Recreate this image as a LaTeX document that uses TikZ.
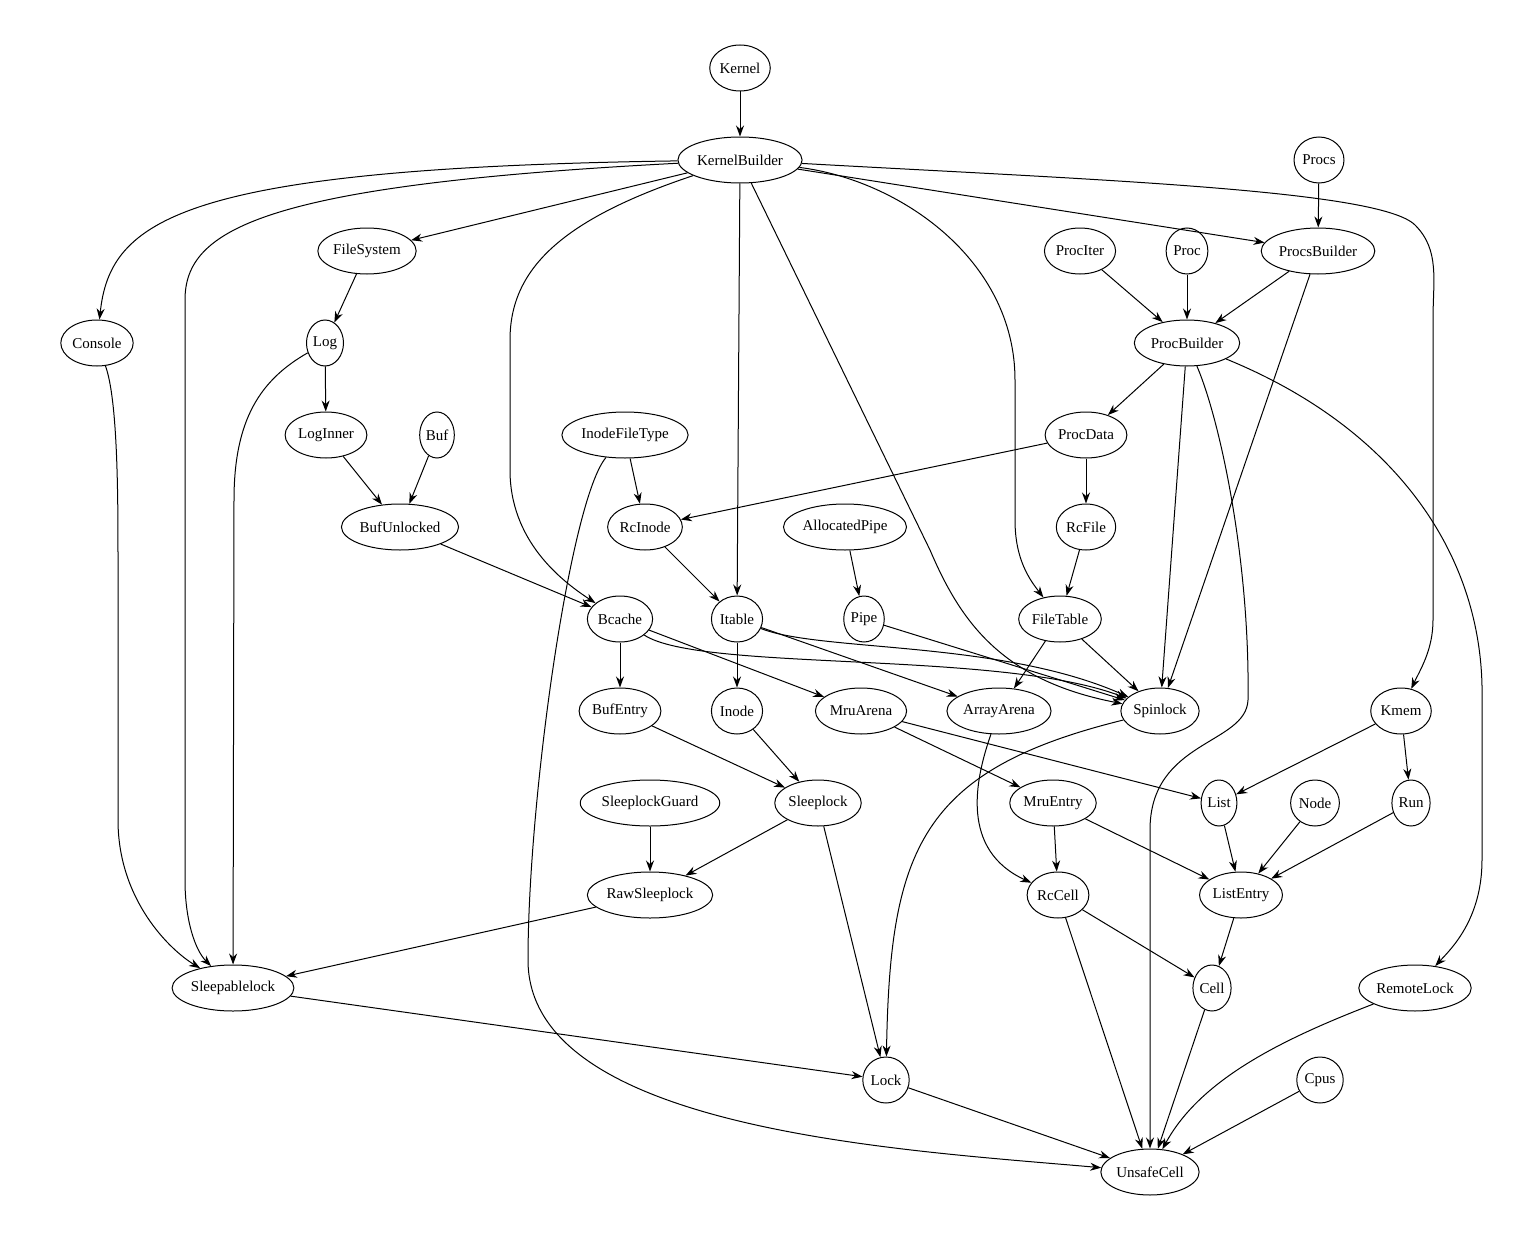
\documentclass[tikz,border=0pt]{standalone}
\usepackage{fontspec}
\setmainfont{Liberation Serif}
\usetikzlibrary{shapes.geometric,arrows.meta}
\begin{document}
\begin{tikzpicture}[x=1pt,y=-1pt,
 nd/.style={ellipse,draw,line width=1pt,minimum height=46pt,inner xsep=1pt,inner ysep=0pt,font=\fontsize{15}{17}\selectfont},
 ar/.style={line width=1pt,-{Stealth[length=11pt,width=8pt]}}]
\useasboundingbox (0,0) rectangle (1535,1239);
\node[nd] (Kernel) at (740,68) {Kernel};
\node[nd] (KernelBuilder) at (740,160) {KernelBuilder};
\node[nd] (Procs) at (1319,160) {Procs};
\node[nd] (FileSystem) at (367,251) {FileSystem};
\node[nd] (ProcIter) at (1080,251) {ProcIter};
\node[nd] (Proc) at (1187,251) {Proc};
\node[nd] (ProcsBuilder) at (1318,251) {ProcsBuilder};
\node[nd] (Console) at (97,343) {Console};
\node[nd] (Log) at (325,343) {Log};
\node[nd] (ProcBuilder) at (1187,343) {ProcBuilder};
\node[nd] (LogInner) at (326,435) {LogInner};
\node[nd] (Buf) at (437,435) {Buf};
\node[nd] (InodeFileType) at (625,435) {InodeFileType};
\node[nd] (ProcData) at (1086,435) {ProcData};
\node[nd] (BufUnlocked) at (400,527) {BufUnlocked};
\node[nd] (RcInode) at (645,527) {RcInode};
\node[nd] (AllocatedPipe) at (845,527) {AllocatedPipe};
\node[nd] (RcFile) at (1086,527) {RcFile};
\node[nd] (Bcache) at (620,619) {Bcache};
\node[nd] (Itable) at (737,619) {Itable};
\node[nd] (Pipe) at (864,619) {Pipe};
\node[nd] (FileTable) at (1060,619) {FileTable};
\node[nd] (BufEntry) at (620,711) {BufEntry};
\node[nd] (Inode) at (737,711) {Inode};
\node[nd] (MruArena) at (861,711) {MruArena};
\node[nd] (ArrayArena) at (999,711) {ArrayArena};
\node[nd] (Spinlock) at (1160,711) {Spinlock};
\node[nd] (Kmem) at (1401,711) {Kmem};
\node[nd] (SleeplockGuard) at (650,803) {SleeplockGuard};
\node[nd] (Sleeplock) at (818,803) {Sleeplock};
\node[nd] (MruEntry) at (1053,803) {MruEntry};
\node[nd] (List) at (1219,803) {List};
\node[nd] (Node) at (1315,803) {Node};
\node[nd] (Run) at (1411,803) {Run};
\node[nd] (RawSleeplock) at (650,895) {RawSleeplock};
\node[nd] (RcCell) at (1058,895) {RcCell};
\node[nd] (ListEntry) at (1241,895) {ListEntry};
\node[nd] (Sleepablelock) at (233,988) {Sleepablelock};
\node[nd] (Cell) at (1212,988) {Cell};
\node[nd] (RemoteLock) at (1415,988) {RemoteLock};
\node[nd] (Lock) at (886,1080) {Lock};
\node[nd] (Cpus) at (1320,1080) {Cpus};
\node[nd] (UnsafeCell) at (1150,1172) {UnsafeCell};

\draw[ar] (Kernel) -- (KernelBuilder);
\draw[ar] (KernelBuilder) .. controls (180,168) and (110,220) .. (Console);
\draw[ar] (KernelBuilder) .. controls (260,185) and (185,230) .. (185,300) -- (185,880) .. controls (185,920) and (195,950) .. (Sleepablelock);
\draw[ar] (KernelBuilder) -- (FileSystem);
\draw[ar] (KernelBuilder) .. controls (560,220) and (510,270) .. (510,340) -- (510,470) .. controls (510,540) and (560,580) .. (Bcache);
\draw[ar] (KernelBuilder) -- (Itable);
\draw[ar] (KernelBuilder) -- (930,550) .. controls (960,620) and (1000,680) .. (Spinlock);
\draw[ar] (KernelBuilder) .. controls (900,180) and (1015,260) .. (1015,380) -- (1015,520) .. controls (1015,560) and (1030,580) .. (FileTable);
\draw[ar] (KernelBuilder) -- (ProcsBuilder);
\draw[ar] (KernelBuilder) .. controls (1100,180) and (1380,190) .. (1415,225) .. controls (1440,250) and (1433,280) .. (1433,320) -- (1433,620) .. controls (1433,650) and (1420,670) .. (Kmem);
\draw[ar] (Procs) -- (ProcsBuilder);
\draw[ar] (FileSystem) -- (Log);
\draw[ar] (ProcIter) -- (ProcBuilder);
\draw[ar] (Proc) -- (ProcBuilder);
\draw[ar] (ProcsBuilder) -- (ProcBuilder);
\draw[ar] (ProcsBuilder) -- (Spinlock);
\draw[ar] (Console) .. controls (118,400) and (118,500) .. (118,560) -- (118,820) .. controls (118,900) and (170,950) .. (Sleepablelock);
\draw[ar] (Log) -- (LogInner);
\draw[ar] (Log) .. controls (260,380) and (234,420) .. (234,500) -- (Sleepablelock);
\draw[ar] (ProcBuilder) -- (ProcData);
\draw[ar] (ProcBuilder) -- (Spinlock);
\draw[ar] (ProcBuilder) .. controls (1220,420) and (1250,560) .. (1248,700) .. controls (1246,745) and (1150,740) .. (1150,830) -- (UnsafeCell);
\draw[ar] (ProcBuilder) .. controls (1400,430) and (1485,560) .. (1482,700) -- (1482,860) .. controls (1482,920) and (1450,950) .. (RemoteLock);
\draw[ar] (LogInner) -- (BufUnlocked);
\draw[ar] (Buf) -- (BufUnlocked);
\draw[ar] (InodeFileType) -- (RcInode);
\draw[ar] (InodeFileType) .. controls (570,500) and (528,800) .. (528,960) .. controls (528,1130) and (900,1150) .. (UnsafeCell);
\draw[ar] (ProcData) -- (RcInode);
\draw[ar] (ProcData) -- (RcFile);
\draw[ar] (BufUnlocked) -- (Bcache);
\draw[ar] (RcInode) -- (Itable);
\draw[ar] (AllocatedPipe) -- (Pipe);
\draw[ar] (RcFile) -- (FileTable);
\draw[ar] (Bcache) -- (BufEntry);
\draw[ar] (Bcache) -- (MruArena);
\draw[ar] (Bcache) .. controls (700,672) and (1000,650) .. (Spinlock);
\draw[ar] (Itable) -- (Inode);
\draw[ar] (Itable) -- (ArrayArena);
\draw[ar] (Itable) .. controls (820,652) and (1000,640) .. (Spinlock);
\draw[ar] (Pipe) -- (Spinlock);
\draw[ar] (FileTable) -- (ArrayArena);
\draw[ar] (FileTable) -- (Spinlock);
\draw[ar] (BufEntry) -- (Sleeplock);
\draw[ar] (Inode) -- (Sleeplock);
\draw[ar] (MruArena) -- (MruEntry);
\draw[ar] (MruArena) -- (List);
\draw[ar] (ArrayArena) .. controls (975,780) and (960,850) .. (RcCell);
\draw[ar] (Spinlock) .. controls (920,770) and (890,850) .. (Lock);
\draw[ar] (Kmem) -- (List);
\draw[ar] (Kmem) -- (Run);
\draw[ar] (SleeplockGuard) -- (RawSleeplock);
\draw[ar] (Sleeplock) -- (RawSleeplock);
\draw[ar] (Sleeplock) -- (Lock);
\draw[ar] (MruEntry) -- (RcCell);
\draw[ar] (MruEntry) -- (ListEntry);
\draw[ar] (List) -- (ListEntry);
\draw[ar] (Node) -- (ListEntry);
\draw[ar] (Run) -- (ListEntry);
\draw[ar] (RawSleeplock) -- (Sleepablelock);
\draw[ar] (RcCell) -- (Cell);
\draw[ar] (RcCell) -- (UnsafeCell);
\draw[ar] (ListEntry) -- (Cell);
\draw[ar] (Sleepablelock) -- (Lock);
\draw[ar] (Cell) -- (UnsafeCell);
\draw[ar] (RemoteLock) .. controls (1280,1040) and (1200,1080) .. (UnsafeCell);
\draw[ar] (Lock) -- (UnsafeCell);
\draw[ar] (Cpus) -- (UnsafeCell);
\end{tikzpicture}
\end{document}
